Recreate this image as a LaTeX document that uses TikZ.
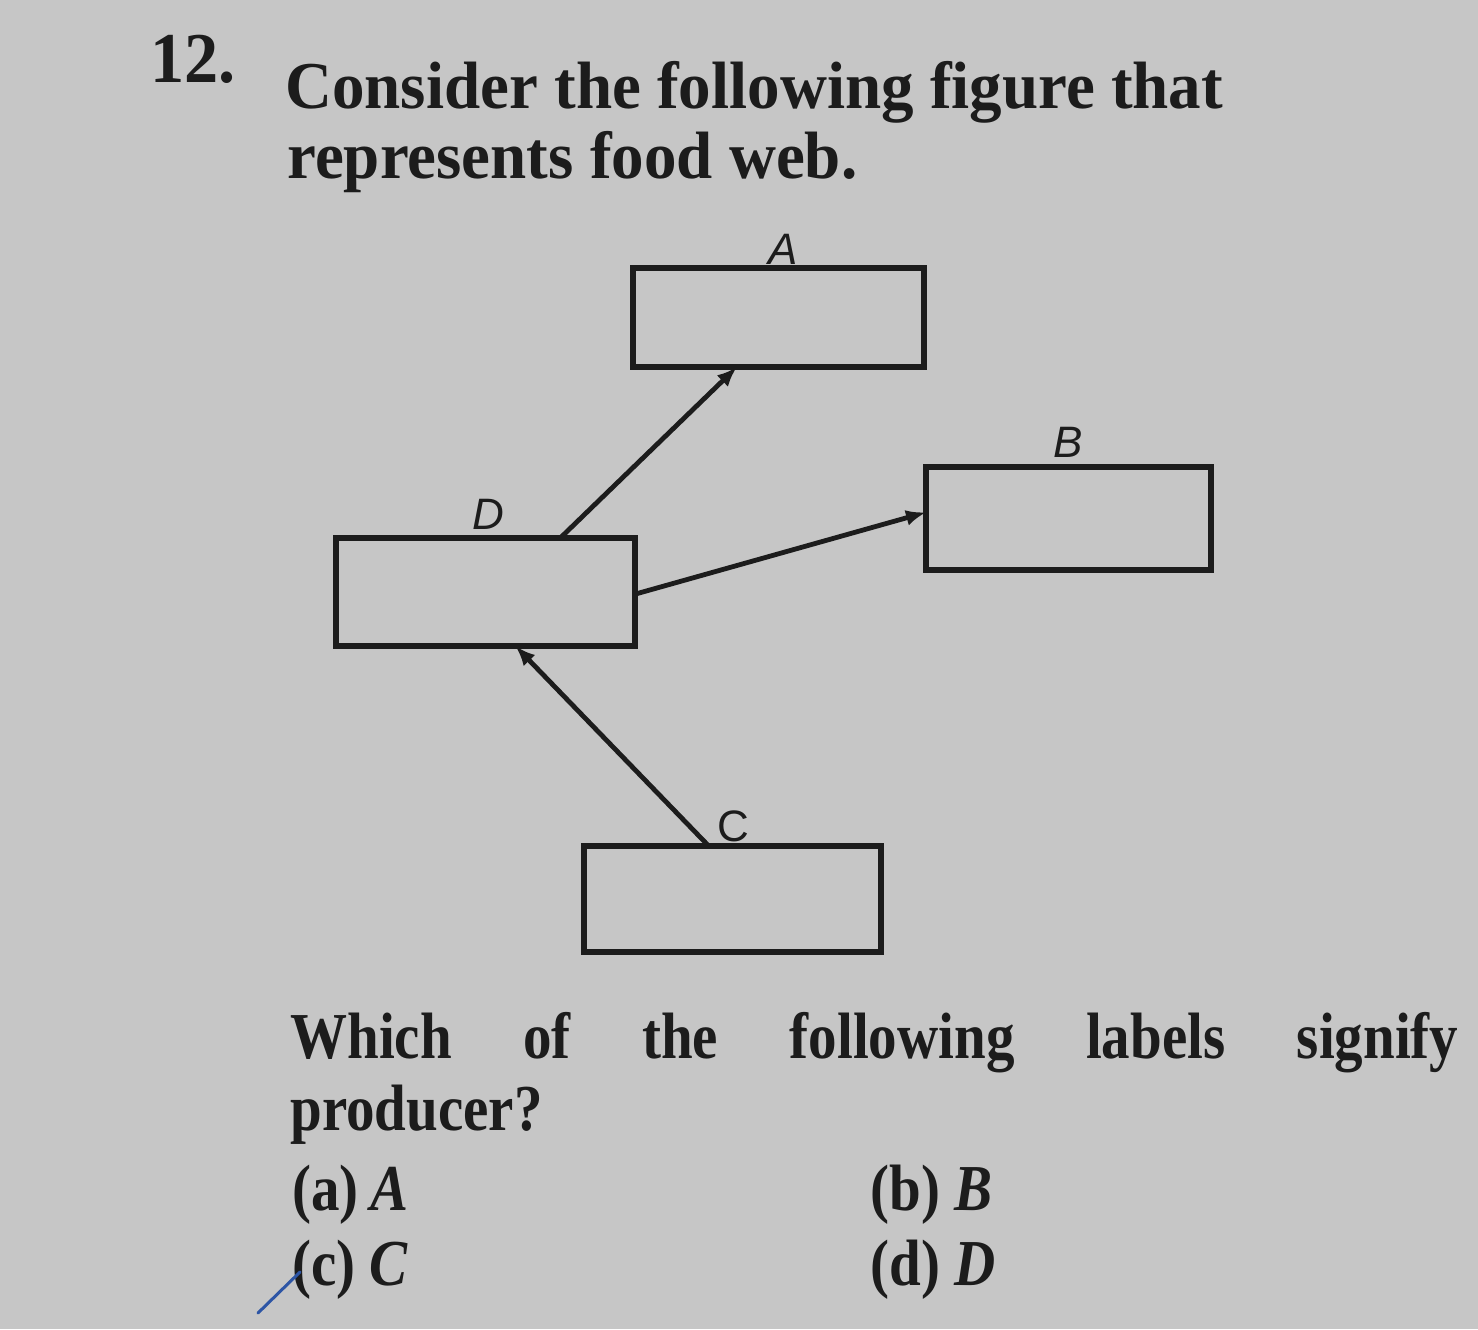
\documentclass[tikz,border=0pt]{standalone}
\usepackage{fontspec}
\setmainfont{Liberation Serif}
\newfontfamily\lblfont{Liberation Sans}
\usetikzlibrary{calc,arrows.meta}
\definecolor{paper}{RGB}{198,198,198}
\definecolor{ink}{RGB}{28,28,28}
\definecolor{pen}{RGB}{45,85,165}
\begin{document}
\begin{tikzpicture}[x=0.5pt,y=-0.5pt,
  box/.style={draw=ink, line width=2.8pt, inner sep=0pt, outer sep=0pt},
  arr/.style={draw=ink, line width=2.4pt, -{Latex[length=10pt,width=8pt]}},
  lbl/.style={text=ink, inner sep=0pt, anchor=base, font=\lblfont\fontsize{22}{26}\selectfont},
  title/.style={text=ink, inner sep=0pt, anchor=base west, font=\bfseries\fontsize{32.5}{38}\selectfont},
  qtext/.style={text=ink, inner sep=0pt, anchor=base west, font=\bfseries\fontsize{28.5}{34}\selectfont}]
\fill[paper] (0,0) rectangle (1478,1329);
\useasboundingbox (0,0) rectangle (1478,1329);
% question text
\node[title] (num) at (150,82) {\scalebox{1.05}[1.1]{12.}};
\node[title] (l1) at (285,108) {\scalebox{1}[1.03]{Consider the following figure that}};
\node[title] (l2) at (287,178) {\scalebox{1}[1.03]{represents food web.}};
% boxes
\node[box, minimum width=145.5pt, minimum height=49.5pt] (A) at (778.5,317.5) {};
\node[box, minimum width=142.5pt, minimum height=51.5pt] (B) at (1068.5,518.5) {};
\node[box, minimum width=149.5pt, minimum height=54pt] (D) at (485.5,592) {};
\node[box, minimum width=148.5pt, minimum height=53pt] (C) at (732.5,899) {};
% labels
\node[lbl] (lA) at (783,264) {\itshape A};
\node[lbl] (lB) at (1068,457) {\itshape B};
\node[lbl] (lD) at (488,529) {\itshape D};
\node[lbl] (lC) at (733,841) {C};
% arrows
\draw[arr] ($(D.north west)!0.75!(D.north east)$) -- ($(A.south west)!0.357!(A.south east)$);
\draw[arr] ($(D.north east)!0.52!(D.south east)$) -- ($(B.north west)!0.44!(B.south west)$);
\draw[arr] ($(C.north west)!0.42!(C.north east)$) -- ($(D.south west)!0.60!(D.south east)$);
% second question text
\node[qtext] (q1) at (290,1058) {\scalebox{1}[1.15]{\makebox[584pt][s]{Which of the following labels signify}}};
\node[qtext] (q2) at (290,1130) {\scalebox{1}[1.15]{producer?}};
\node[qtext] (oa) at (292,1210) {\scalebox{1}[1.15]{(a)\hspace{6pt}\textit{A}}};
\node[qtext] (ob) at (870,1210) {\scalebox{1}[1.15]{(b) \textit{B}}};
\node[qtext] (oc) at (292,1285) {\scalebox{1}[1.15]{(c) \textit{C}}};
\node[qtext] (od) at (870,1285) {\scalebox{1}[1.15]{(d) \textit{D}}};
% pen mark
\draw[pen, line width=1.5pt, line cap=round] (258,1313) -- (300,1272);
\end{tikzpicture}
\end{document}
